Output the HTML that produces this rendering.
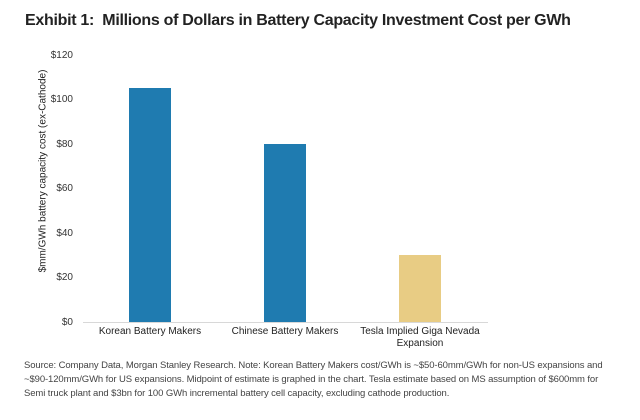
<!DOCTYPE html>
<html><head><style>
body{margin:0;width:640px;height:420px;background:#fff;font-family:"Liberation Sans",sans-serif;overflow:hidden;position:relative}
.t{position:absolute;white-space:nowrap}
.y{font-size:10px;color:#333;right:567px;width:40px;text-align:right}
.bar{position:absolute;width:42px}
.x{font-size:10px;color:#222;text-align:center;width:160px}
</style></head><body>
<div class="t" style="left:25px;top:12px;font-size:16px;font-weight:bold;color:#222;letter-spacing:-0.3px">Exhibit 1:&nbsp; Millions of Dollars in Battery Capacity Investment Cost per GWh</div>
<div class="t y" style="top:50px">$120</div>
<div class="t y" style="top:94px">$100</div>
<div class="t y" style="top:139px">$80</div>
<div class="t y" style="top:183px">$60</div>
<div class="t y" style="top:228px">$40</div>
<div class="t y" style="top:272px">$20</div>
<div class="t y" style="top:317px">$0</div>
<div class="t" style="left:43px;top:171px;font-size:10px;color:#222;transform:translate(-50%,-50%) rotate(-90deg)">$mm/GWh battery capacity cost (ex-Cathode)</div>
<div style="position:absolute;left:83px;top:322px;width:405px;height:1px;background:#d8d8d8"></div>
<div class="bar" style="left:129px;top:88px;height:234px;background:#1f7bb0"></div>
<div class="bar" style="left:264px;top:144px;height:178px;background:#1f7bb0"></div>
<div class="bar" style="left:399px;top:255px;height:67px;background:#e8cc84"></div>
<div class="t x" style="left:70px;top:326px">Korean Battery Makers</div>
<div class="t x" style="left:205px;top:326px">Chinese Battery Makers</div>
<div class="t x" style="left:340px;top:326px;white-space:normal;line-height:12px">Tesla Implied Giga Nevada Expansion</div>
<div class="t" style="left:24px;top:359px;font-size:9.5px;color:#444;line-height:14px;width:616px;white-space:nowrap;letter-spacing:-0.1px">Source: Company Data, Morgan Stanley Research. Note: Korean Battery Makers cost/GWh is ~$50-60mm/GWh for non-US expansions and<br>~$90-120mm/GWh for US expansions. Midpoint of estimate is graphed in the chart. Tesla estimate based on MS assumption of $600mm for<br>Semi truck plant and $3bn for 100 GWh incremental battery cell capacity, excluding cathode production.</div>
</body></html>
